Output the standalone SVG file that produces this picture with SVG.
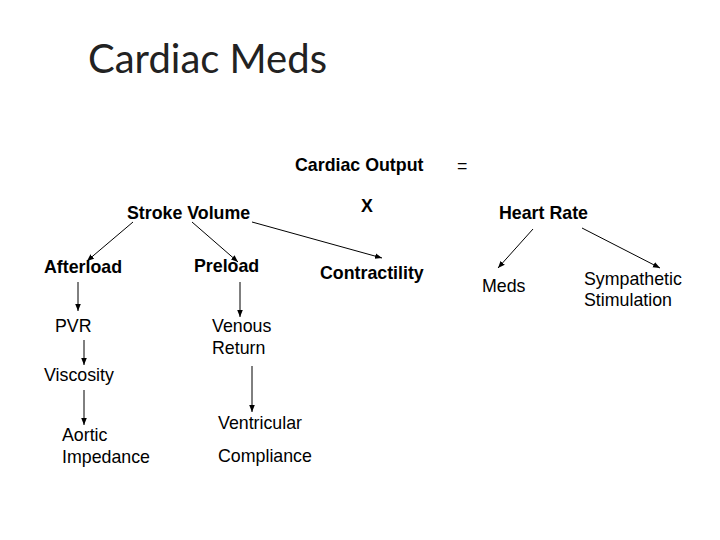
<svg xmlns="http://www.w3.org/2000/svg" width="720" height="540" viewBox="0 0 720 540">
<defs>
<style>
.t{font-family:"Liberation Sans",Arial,sans-serif;font-size:17.8px;fill:#000}
.b{font-weight:bold}
.c line{stroke:#000;stroke-width:1}
</style>
<marker id="a" viewBox="0 0 10 10" refX="10" refY="5" markerWidth="7" markerHeight="7" orient="auto"><path d="M0,1 L10,5 L0,9 z" fill="#000"/></marker>
</defs>
<rect width="720" height="540" fill="#fff"/>
<text x="88" y="73" style="font-family:Lato,'Open Sans',sans-serif;font-size:40px;fill:#222">Cardiac Meds</text>
<g id="co"><text class="t b" x="295" y="171">Cardiac Output</text></g>
<g id="eq"><text class="t" x="457" y="172">=</text></g>
<g id="x"><text class="t b" x="361" y="212">X</text></g>
<g id="sv"><text class="t b" x="127" y="219">Stroke Volume</text></g>
<g id="hr"><text class="t b" x="499" y="219">Heart Rate</text></g>
<g id="after"><text class="t b" x="44" y="273">Afterload</text></g>
<g id="pre"><text class="t b" x="194" y="272">Preload</text></g>
<g id="contr"><text class="t b" x="320" y="279">Contractility</text></g>
<g id="meds"><text class="t" x="482" y="292">Meds</text></g>
<g id="symp"><text class="t" x="584" y="285">Sympathetic</text><text class="t" x="584" y="306">Stimulation</text></g>
<g id="pvr"><text class="t" x="55" y="332">PVR</text></g>
<g id="visc"><text class="t" x="44" y="381">Viscosity</text></g>
<g id="aortic"><text class="t" x="62" y="441">Aortic</text><text class="t" x="62" y="463">Impedance</text></g>
<g id="venous"><text class="t" x="212" y="332">Venous</text><text class="t" x="212" y="354">Return</text></g>
<g id="vent"><text class="t" x="218" y="429">Ventricular</text><text class="t" x="218" y="462">Compliance</text></g>
<g class="c" id="connectors">
<line x1="133" y1="222" x2="87" y2="261" marker-end="url(#a)"/>
<line x1="192" y1="222" x2="238" y2="262" marker-end="url(#a)"/>
<line x1="252" y1="222" x2="382" y2="258" marker-end="url(#a)"/>
<line x1="78" y1="282" x2="78" y2="311" marker-end="url(#a)"/>
<line x1="84" y1="340" x2="84" y2="365" marker-end="url(#a)"/>
<line x1="84" y1="390" x2="84" y2="425" marker-end="url(#a)"/>
<line x1="240" y1="282" x2="240" y2="317" marker-end="url(#a)"/>
<line x1="252" y1="366" x2="252" y2="412" marker-end="url(#a)"/>
<line x1="533" y1="229" x2="498" y2="268" marker-end="url(#a)"/>
<line x1="582" y1="228" x2="660" y2="268" marker-end="url(#a)"/>
</g>
</svg>
